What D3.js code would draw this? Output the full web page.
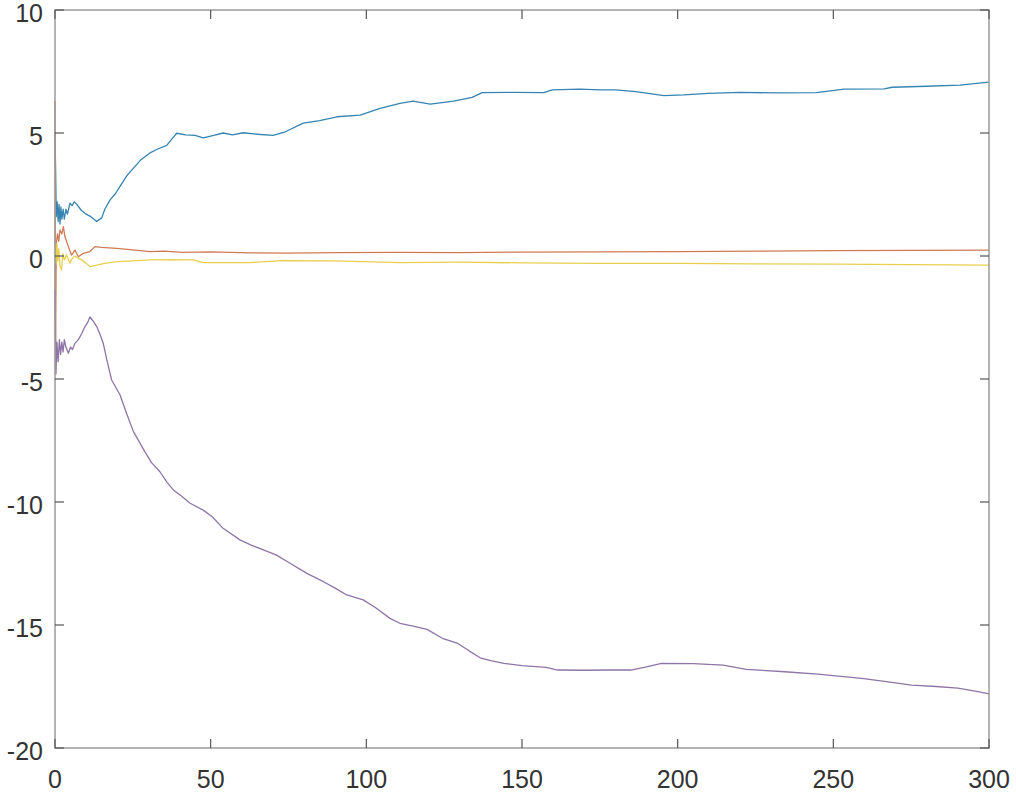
<!DOCTYPE html>
<html>
<head>
<meta charset="utf-8">
<script src="https://cdn.jsdelivr.net/npm/d3@7"></script>
<style>
  body { margin: 0; background: #fff; }
  svg { display: block; }
</style>
</head>
<body>
<svg id="chart"></svg>
<script>
// 축 눈금
const xTicks = [0, 50, 100, 150, 200, 250, 300];
const yTicks = [-20, -15, -10, -5, 0, 5, 10];

// 파란 선 [x, y]
const blueLine = [
  [0, 5.0], [0.2, 3.5], [0.4, 1.6], [0.7, 2.2], [1.0, 1.4], [1.3, 2.1], [1.6, 1.3], [1.9, 2.0],
  [2.2, 1.5], [2.6, 1.9], [3.0, 1.5], [3.5, 1.9], [4.0, 1.7], [4.8, 2.15], [5.5, 2.05], [6.2, 2.2],
  [7.0, 2.1], [8.5, 1.85], [10, 1.7], [11.5, 1.6], [13.4, 1.4], [15, 1.55], [16, 1.9], [17.7, 2.28],
  [19.5, 2.55], [21, 2.85], [23, 3.25], [25.2, 3.57], [27.5, 3.9], [30.5, 4.19], [33, 4.35],
  [35.9, 4.5], [37.5, 4.75], [39.1, 4.99], [42, 4.92], [45, 4.9], [47.6, 4.8], [51, 4.9], [54, 5.0],
  [57, 4.92], [60.5, 5.01], [65, 4.95], [70, 4.9], [74, 5.05], [79.7, 5.4], [85, 5.5], [90.6, 5.66],
  [98, 5.73], [104.4, 6.0], [110.8, 6.2], [115, 6.3], [120.5, 6.17], [128, 6.3], [134, 6.45],
  [137.2, 6.64], [147, 6.65], [157, 6.64], [159.7, 6.75], [168.6, 6.78], [175, 6.75], [180, 6.75],
  [186.6, 6.68], [195.6, 6.52], [202, 6.55], [209.8, 6.61], [220, 6.65], [232, 6.63], [244.5, 6.64],
  [253.5, 6.78], [266.3, 6.79], [268.9, 6.86], [280, 6.9], [290.7, 6.95], [296, 7.02], [300, 7.07]
];

// 주황 선
const orangeLine = [
  [0, 6.3], [0.15, -4.6], [0.4, 0.5], [0.8, 0.9], [1.2, 0.6], [1.6, 1.06], [2.2, 0.9], [2.7, 1.19],
  [3.2, 0.78], [4.3, 0.38], [5.3, 0.04], [6.4, 0.24], [7.5, -0.03], [9.1, 0.11], [11.2, 0.18],
  [12.8, 0.38], [15, 0.35], [19.8, 0.31], [25, 0.25], [30.5, 0.18], [35, 0.2], [41, 0.15], [50, 0.17],
  [62.6, 0.13], [75, 0.12], [90, 0.14], [110, 0.15], [130, 0.14], [150, 0.16], [175, 0.17],
  [200, 0.18], [225, 0.2], [250, 0.22], [275, 0.23], [300, 0.24]
];

// 노란 선
const yellowLine = [
  [0, 0.6], [0.3, -0.3], [0.6, 0.5], [0.9, -0.2], [1.2, 0.3], [1.6, -0.4], [2.1, -0.57], [2.5, 0.1],
  [3.0, -0.16], [3.7, 0.05], [4.8, -0.29], [5.5, -0.1], [6.4, 0.0], [7.5, -0.1], [8.6, -0.16],
  [10, -0.3], [11.2, -0.43], [13.4, -0.37], [16, -0.3], [19.8, -0.23], [25, -0.2], [30.5, -0.16],
  [37, -0.15], [44.4, -0.16], [47.6, -0.27], [55, -0.27], [62.6, -0.27], [73, -0.19], [90, -0.2],
  [111, -0.27], [130, -0.25], [150, -0.28], [175, -0.3], [200, -0.3], [225, -0.32], [250, -0.33],
  [275, -0.35], [300, -0.37]
];

// 보라 선
const purpleLine = [
  [0, -1.4], [0.3, -4.8], [0.6, -3.5], [1.0, -4.3], [1.4, -3.4], [1.8, -4.0], [2.2, -3.5], [2.6, -3.9],
  [3.0, -3.4], [3.5, -3.7], [4.3, -3.95], [5.0, -3.7], [5.6, -3.8], [6.4, -3.55], [7.5, -3.4],
  [8.6, -3.15], [9.5, -2.9], [10.5, -2.7], [11.2, -2.48], [12.0, -2.6], [13.4, -2.87], [14.5, -3.2],
  [15.5, -3.55], [16.6, -4.2], [18.2, -5.04], [20.9, -5.65], [23, -6.4], [25.2, -7.14], [28.9, -7.96],
  [31, -8.4], [33.7, -8.77], [36, -9.2], [38, -9.51], [40.5, -9.75], [43.4, -10.05], [47.6, -10.33],
  [50.5, -10.6], [54, -11.07], [59.4, -11.54], [63, -11.75], [66.9, -11.95], [71, -12.15],
  [75.5, -12.49], [80.9, -12.9], [86.2, -13.24], [90, -13.5], [93.7, -13.78], [99, -13.98],
  [103, -14.3], [107.6, -14.73], [110.8, -14.93], [115, -15.05], [119.5, -15.18], [124.4, -15.54],
  [129.4, -15.75], [133, -16.05], [136.8, -16.35], [140, -16.45], [144.2, -16.56], [150, -16.65],
  [157.7, -16.72], [161.5, -16.83], [170, -16.84], [178, -16.83], [185, -16.83], [190, -16.7],
  [194.8, -16.56], [205, -16.57], [214.6, -16.63], [222, -16.8], [234.4, -16.9], [245, -17.0],
  [259.1, -17.17], [267, -17.3], [275.1, -17.44], [283, -17.5], [290, -17.57], [296, -17.7], [300, -17.8]
];

const series = [
  { data: blueLine, color: "#3584b2" },
  { data: orangeLine, color: "#d07a52" },
  { data: yellowLine, color: "#e8cf4e" },
  { data: purpleLine, color: "#8f74a6" }
];

const W = 1016, H = 793;
const margin = { top: 10, right: 27, bottom: 45, left: 55 };
const width = W - margin.left - margin.right;
const height = H - margin.top - margin.bottom;

const svg = d3.select("#chart").attr("width", W).attr("height", H);
const g = svg.append("g").attr("transform", `translate(${margin.left},${margin.top})`);

const x = d3.scaleLinear().domain([0, 300]).range([0, width]);
const y = d3.scaleLinear().domain([-20, 10]).range([height, 0]);

// 데이터 선
const line = d3.line().x(d => x(d[0])).y(d => y(d[1]));
series.forEach(s => {
  g.append("path")
    .datum(s.data)
    .attr("fill", "none")
    .attr("stroke", s.color)
    .attr("stroke-width", 1.3)
    .attr("stroke-linejoin", "round")
    .attr("d", line);
});

// 상자 테두리
g.append("rect")
  .attr("x", 0).attr("y", 0)
  .attr("width", width).attr("height", height)
  .attr("fill", "none")
  .attr("stroke", "#9a9a9a")
  .attr("stroke-width", 1.5);

// 안쪽 눈금 (네 면)
const tickLen = 9;
const tickStyle = sel => sel.attr("stroke", "#555").attr("stroke-width", 1.2);
xTicks.forEach(t => {
  g.append("line").attr("x1", x(t)).attr("x2", x(t)).attr("y1", height).attr("y2", height - tickLen).call(tickStyle);
  g.append("line").attr("x1", x(t)).attr("x2", x(t)).attr("y1", 0).attr("y2", tickLen).call(tickStyle);
});
yTicks.forEach(t => {
  g.append("line").attr("x1", 0).attr("x2", tickLen).attr("y1", y(t)).attr("y2", y(t)).call(tickStyle);
  g.append("line").attr("x1", width).attr("x2", width - tickLen).attr("y1", y(t)).attr("y2", y(t)).call(tickStyle);
});

// 눈금 라벨
g.selectAll(".xlab")
  .data(xTicks)
  .enter()
  .append("text")
  .attr("class", "xlab")
  .attr("x", d => x(d))
  .attr("y", height + 40)
  .attr("text-anchor", "middle")
  .style("font-family", "Liberation Sans, Arial, sans-serif")
  .style("font-size", "25px")
  .style("fill", "#333")
  .text(d => d);

g.selectAll(".ylab")
  .data(yTicks)
  .enter()
  .append("text")
  .attr("class", "ylab")
  .attr("x", -12)
  .attr("y", d => y(d) + 12)
  .attr("text-anchor", "end")
  .style("font-family", "Liberation Sans, Arial, sans-serif")
  .style("font-size", "25px")
  .style("fill", "#333")
  .text(d => d);
</script>
</body>
</html>
